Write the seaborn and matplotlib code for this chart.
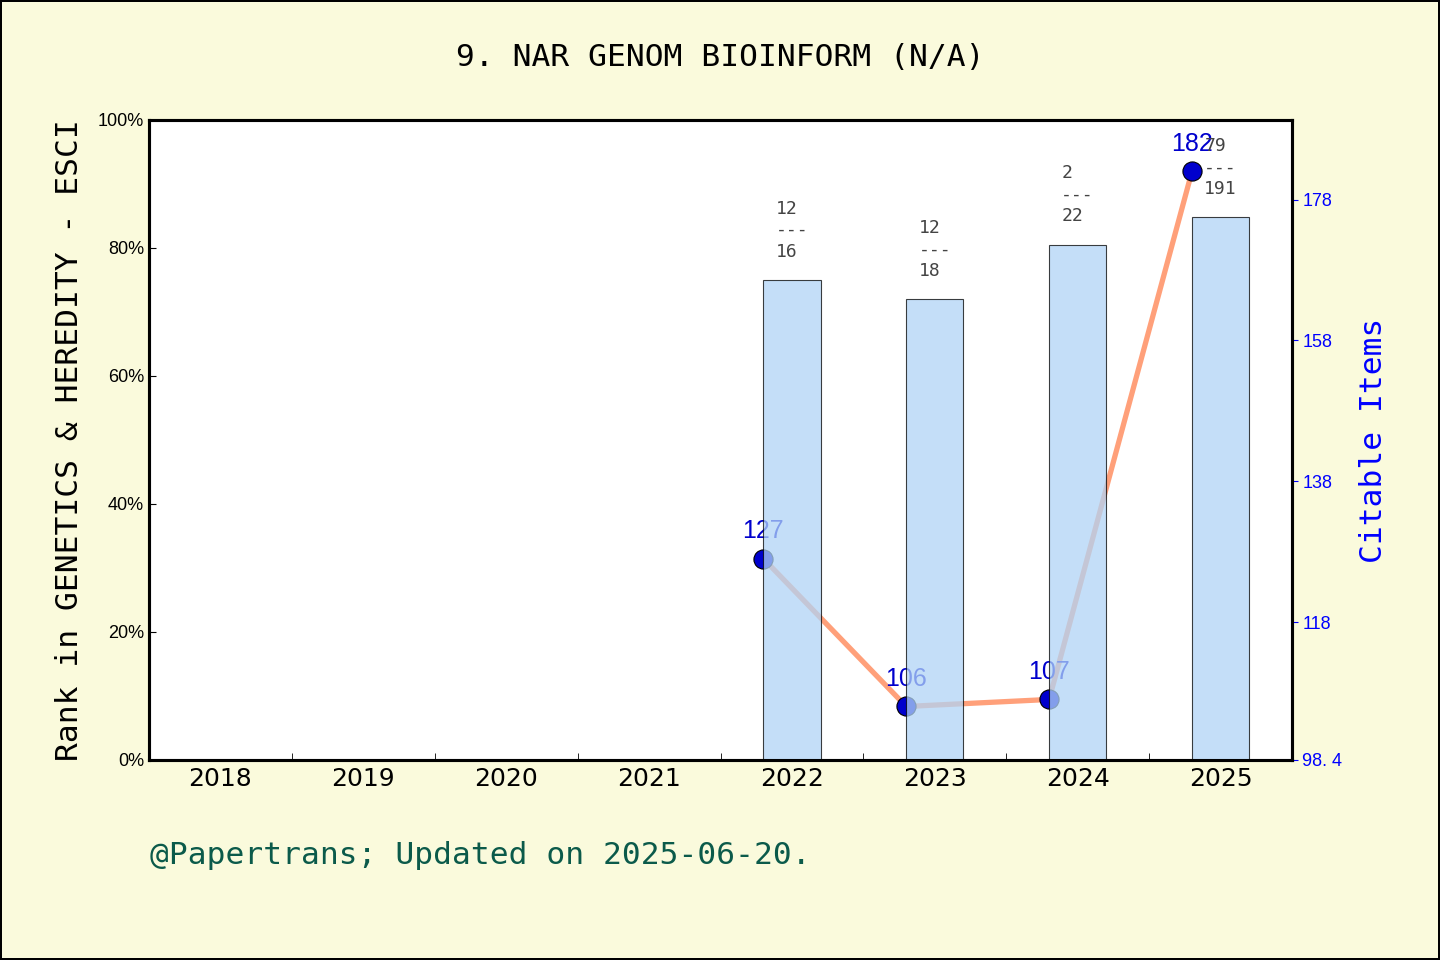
import matplotlib
matplotlib.use("Agg")
import matplotlib.pyplot as plt
import matplotlib.ticker as mticker
import seaborn as sns
import pandas as pd

# dados
years = ["2018", "2019", "2020", "2021", "2022", "2023", "2024", "2025"]
bar_years = ["2022", "2023", "2024", "2025"]
rank_pct = [75.0, 72.0, 80.5, 84.8]
ranks = [12, 12, 2, 79]
totals = [16, 18, 22, 191]
citable = [127, 106, 107, 182]

sns.set_style("white")
plt.rcParams["font.family"] = ["DejaVu Sans Mono", "DejaVu Sans"]
plt.rcParams["text.color"] = "black"
plt.rcParams["axes.labelcolor"] = "black"
plt.rcParams["xtick.color"] = "black"
plt.rcParams["ytick.color"] = "black"

bg = "#fafadc"
fig = plt.figure(figsize=(14.4, 9.6), dpi=100, facecolor=bg, edgecolor="black", linewidth=1.5)
ax = fig.add_axes([149 / 1440, 1 - 760 / 960, (1292 - 149) / 1440, 640 / 960])
ax2 = ax.twinx()

# linha por baixo das barras (barras semitransparentes por cima)
ax.set_zorder(ax2.get_zorder() + 1)
ax.patch.set_visible(False)
ax2.patch.set_visible(True)
ax2.patch.set_facecolor("white")

pos = [years.index(y) - 0.2 for y in bar_years]
line_df = pd.DataFrame({"x": pos, "y": citable})
sns.lineplot(data=line_df, x="x", y="y", ax=ax2, color="#ffa07a", linewidth=3.8, zorder=2)
ax2.scatter(pos, citable, s=190, color="#0000cd", edgecolor="black", linewidth=0.8, zorder=3)
for x, v in zip(pos, citable):
    ax2.annotate(str(v), (x, v), xytext=(0, 11), textcoords="offset points", ha="center",
                 va="bottom", color="#0000cd", fontsize=18, family="Liberation Sans", zorder=4)
ax2.set_ylim(98.4, 189.3)
ax2.set_yticks([98.4, 118, 138, 158, 178])
ax2.yaxis.set_major_formatter(mticker.FuncFormatter(lambda v, p: "98. 4" if abs(v - 98.4) < 0.01 else f"{v:.0f}"))
ax2.tick_params(axis="y", colors="#0000ff", labelsize=13, length=4, direction="out", labelcolor="#0000ff")
for lab in ax2.get_yticklabels():
    lab.set_family("Liberation Sans")
ax2.set_ylabel("Citable Items", color="#0000ff", fontsize=22.5, labelpad=12)
ax2.set_xlim(-0.5, 7.5)

bar_df = pd.DataFrame({"year": bar_years, "pct": rank_pct})
sns.barplot(data=bar_df, x="year", y="pct", order=years, ax=ax, width=0.4,
            color="#b0d4f6", alpha=0.75, edgecolor="black", linewidth=0.8, saturation=1)
for y, v, r, t in zip(bar_years, rank_pct, ranks, totals):
    ax.text(years.index(y), v + 7.8, f"{r}\n---\n{t}", ha="center", va="center",
            multialignment="left", fontsize=13, color="#444444", family="DejaVu Sans Mono",
            linespacing=1.25)

ax.set_xlim(-0.5, 7.5)
ax.set_ylim(0, 100)
ax.set_yticks(range(0, 101, 20))
ax.yaxis.set_major_formatter(mticker.FuncFormatter(lambda v, p: f"{v:.0f}%"))
ax.tick_params(axis="y", labelsize=13, length=5, direction="in", color="black")
for lab in ax.get_yticklabels():
    lab.set_family("Liberation Sans")
ax.set_xticks(range(len(years)))
ax.set_xticklabels(years)
ax.set_xticks([i + 0.5 for i in range(len(years) - 1)], minor=True)
ax.tick_params(axis="x", which="major", length=0, labelsize=18, pad=5)
ax.tick_params(axis="x", which="minor", length=5, direction="in", color="black", bottom=True)
for lab in ax.get_xticklabels():
    lab.set_family("Liberation Sans Narrow")
ax.set_xlabel("")
ax.set_ylabel("Rank in GENETICS & HEREDITY - ESCI", fontsize=22.5, labelpad=10)

for a in (ax, ax2):
    for s in a.spines.values():
        s.set_color("black")
        s.set_linewidth(2.2)

fig.text(0.5, 1 - 57 / 960, "9. NAR GENOM BIOINFORM (N/A)", ha="center", va="center", fontsize=22.5)
fig.text(150 / 1440, 1 - 855 / 960, "@Papertrans; Updated on 2025-06-20.", ha="left", va="center",
         fontsize=22.5, color="#0b5a4a")

fig.savefig("out.png", dpi=100, facecolor=bg, edgecolor="black")
